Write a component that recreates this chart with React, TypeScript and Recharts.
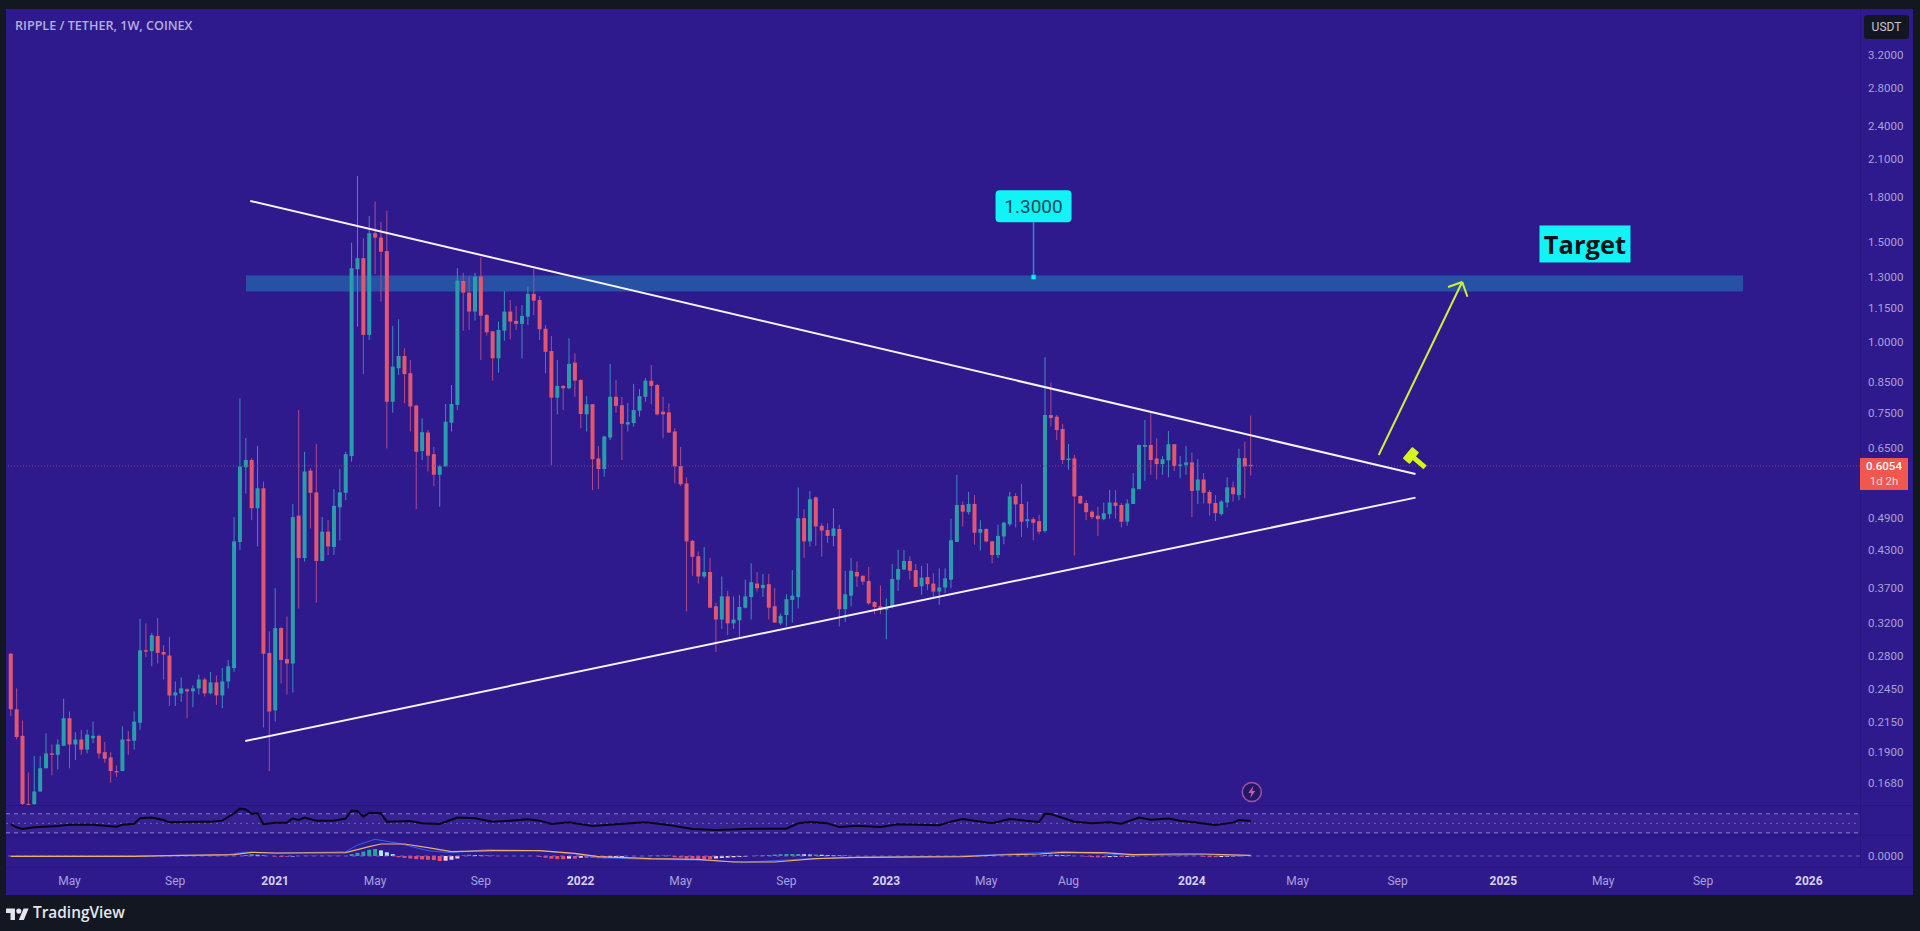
import React from 'react';
import { Bar, Cell, ComposedChart, Line, ReferenceArea, ReferenceDot, ReferenceLine, XAxis, YAxis } from 'recharts';

// open, high, low, close per week, split by stretch of the chart
const candlesA: number[][] = [
[.283,.284,.220,.226],[.226,.246,.200,.202],[.203,.216,.153,.154],[.154,.175,.153,.153],[.154,.187,.153,.162],[.162,.187,.162,.178],[.178,.205,.178,.189],[.189,.196,.173,.188],[.188,.200,.177,.196],[.195,.236,.195,.218],
[.218,.224,.178,.196],[.196,.206,.184,.200],[.200,.208,.188,.192],[.192,.208,.189,.204],[.201,.215,.197,.203],[.203,.204,.185,.189],[.190,.198,.182,.185],[.186,.190,.168,.176],[.176,.180,.172,.175],[.176,.211,.176,.200],
[.200,.207,.188,.199],[.199,.224,.192,.215],[.214,.326,.208,.287],[.287,.320,.279,.286],[.286,.308,.269,.305],[.304,.327,.272,.284],[.285,.293,.255,.282],[.281,.303,.229,.239],[.239,.253,.229,.242],[.241,.257,.233,.246],
[.245,.246,.218,.243],[.243,.249,.228,.246],[.246,.260,.240,.255],[.255,.257,.238,.241],[.241,.263,.240,.252],[.252,.259,.230,.239],[.239,.267,.227,.253],[.253,.276,.246,.269],[.267,.492,.263,.446],[.445,.796,.431,.604],
[.602,.678,.541,.620],[.620,.625,.486,.510],[.510,.656,.437,.553],[.553,.568,.210,.283],[.284,.310,.176,.224],[.225,.369,.215,.314],[.314,.315,.251,.276],[.277,.329,.240,.272],[.272,.519,.242,.492],[.495,.759,.340,.417],
[.417,.641,.411,.592],[.594,.600,.470,.543],[.544,.662,.348,.412],[.412,.492,.412,.464],[.464,.486,.422,.437],[.436,.551,.422,.515],[.512,.598,.448,.544],[.543,.641,.527,.635],
];
const candlesB: number[][] = [
[.630,1.495,.616,1.348],[1.342,1.958,1.064,1.404],[1.404,1.522,.878,1.029],[1.029,1.665,1.008,1.553],[1.553,1.765,1.317,1.526],[1.526,1.627,1.177,1.441],[1.445,1.702,.650,.785],[.785,1.067,.751,.905],[.899,1.096,.875,.945],[.945,.975,.780,.878],
[.881,.930,.696,.770],[.773,.775,.508,.641],[.643,.734,.620,.694],[.693,.700,.592,.631],[.635,.654,.558,.584],[.584,.608,.513,.604],[.604,.778,.604,.724],[.721,.840,.696,.778],[.775,1.348,.759,1.282],[1.280,1.323,1.047,1.221],
[1.221,1.303,1.050,1.131],[1.131,1.323,1.090,1.303],[1.303,1.409,.930,1.112],[1.115,1.120,1.026,1.040],[1.044,1.045,.855,.936],[.936,1.086,.883,1.050],[1.047,1.229,1.005,1.131],[1.131,1.185,1.011,1.086],[1.089,1.157,1.050,1.076],[1.076,1.161,.936,1.111],
[1.108,1.251,1.071,1.215],[1.215,1.342,1.115,1.182],[1.185,1.205,1.008,1.053],[1.055,1.071,.881,.961],[.964,1.024,.608,.798],[.798,.930,.746,.837],[.837,.840,.759,.829],[.829,1.015,.826,.915],[.920,.955,.801,.855],[.857,.860,.705,.747],
[.746,.803,.696,.777],[.777,.778,.549,.622],[.624,.656,.551,.598],[.598,.684,.580,.682],[.679,.915,.672,.801],[.801,.857,.751,.772],[.774,.800,.620,.718],[.716,.781,.696,.723],[.720,.844,.710,.759],[.757,.826,.739,.803],
];
const candlesC: number[][] = [
[.801,.864,.785,.855],[.855,.911,.777,.837],[.840,.844,.743,.746],[.754,.801,.677,.746],[.752,.780,.692,.693],[.696,.705,.564,.604],[.605,.654,.558,.562],[.564,.578,.336,.446],[.447,.449,.388,.419],[.420,.428,.376,.387],
[.387,.436,.384,.394],[.394,.417,.341,.341],[.343,.348,.285,.325],[.325,.387,.313,.357],[.357,.365,.305,.320],[.320,.357,.313,.325],[.324,.359,.303,.342],[.341,.382,.340,.357],[.356,.408,.325,.378],[.376,.394,.364,.369],
[.369,.391,.356,.374],[.375,.391,.325,.341],[.343,.369,.321,.321],[.320,.333,.318,.330],[.331,.360,.316,.353],[.352,.397,.321,.358],[.356,.555,.340,.490],[.490,.508,.417,.446],[.446,.547,.437,.529],[.533,.535,.438,.474],
[.475,.480,.419,.466],[.467,.480,.443,.456],[.456,.510,.437,.470],[.469,.477,.316,.339],[.339,.396,.322,.360],[.358,.417,.343,.396],[.394,.411,.371,.387],[.388,.389,.374,.379],[.380,.402,.345,.347],[.349,.350,.332,.342],
[.343,.373,.332,.338],[.338,.354,.300,.342],[.342,.407,.340,.383],[.382,.431,.365,.399],[.398,.431,.397,.412],[.412,.420,.382,.396],[.397,.407,.371,.371],[.372,.404,.359,.385],[.386,.408,.366,.375],[.376,.392,.355,.364],
[.364,.400,.345,.370],[.370,.400,.362,.384],
];
const candlesD: number[][] = [
[.382,.489,.369,.448],[.445,.584,.445,.517],[.517,.524,.474,.503],[.502,.545,.497,.519],[.519,.538,.440,.462],[.462,.486,.430,.469],[.469,.470,.444,.446],[.446,.447,.408,.422],[.422,.477,.417,.456],[.455,.483,.441,.481],
[.478,.545,.474,.535],[.536,.542,.472,.518],[.519,.563,.454,.483],[.484,.524,.471,.488],[.488,.492,.448,.481],[.484,.497,.459,.464],[.465,.940,.462,.744],[.744,.848,.710,.735],[.739,.744,.672,.700],[.703,.718,.610,.620],
[.620,.662,.596,.624],[.624,.633,.421,.535],[.536,.537,.519,.520],[.521,.527,.486,.502],[.503,.506,.488,.492],[.495,.513,.456,.488],[.488,.522,.486,.500],[.498,.549,.489,.522],[.522,.549,.489,.515],[.517,.521,.472,.483],
[.483,.529,.475,.520],[.519,.588,.519,.553],[.551,.660,.551,.659],[.654,.729,.570,.659],[.659,.751,.584,.620],[.624,.677,.573,.610],[.610,.630,.584,.622],[.619,.697,.578,.661],[.661,.662,.593,.605],[.605,.630,.576,.609],
[.608,.656,.584,.614],[.614,.639,.492,.547],[.548,.622,.519,.573],[.573,.588,.520,.543],[.545,.549,.495,.520],[.521,.538,.484,.500],[.498,.527,.495,.524],[.522,.578,.512,.555],[.555,.568,.524,.540],[.538,.649,.527,.625],
[.625,.668,.531,.604],[.608,.742,.582,.6054],
];

const priceTicks = [3.2, 2.8, 2.4, 2.1, 1.8, 1.5, 1.3, 1.15, 1.0, 0.85, 0.75, 0.65, 0.49, 0.43, 0.37, 0.32, 0.28, 0.245, 0.215, 0.19, 0.168];
const timeTickWeeks = [10, 28, 45, 62, 80, 97, 114, 132, 149, 166, 180, 201, 219, 236, 254, 271, 288, 306];
const timeTickLabels = ['May', 'Sep', '2021', 'May', 'Sep', '2022', 'May', 'Sep', '2023', 'May', 'Aug', '2024', 'May', 'Sep', '2025', 'May', 'Sep', '2026'];

const rsiWeeks = [0,1,2,4,8,10,14,18,19,21,22,24,26,27,31,34,36,38,39,40,41,42,43,45,47,48,49,50,52,55,57,58,59,60,61,63,64,68,70,73,76,79,82,85,88,90,92,95,99,103,108,112,116,120,125,132,134,136,139,141,144,148,151,158,160,162,164,167,170,175,176,177,181,184,187,189,192,194,197,199,201,205,208,209,211];
const rsiValues = [48,41.6,38,41.6,44.4,47,47,43,47,49,60.5,62,57,52,53.5,53.5,55.6,71,81,79,70,71,48,51.4,51.4,60,57,62,55.6,55.6,60,76.6,76,64,72,71,53.5,55,50,48.6,62,60.5,53.5,55.6,58.4,55.6,48.6,52,44.4,48,52,46.5,38,36,38,38.8,50,52.8,50,42,45,42,48,46,53.5,59,55.6,50,59,52.8,70,69.6,53.5,50,52,49.3,62,57.7,60,55.6,52.8,46.5,51.4,57,55];

const signalWeeks = [0,21,29,38,41,45,57,61,63,67,71,75,82,90,96,100,109,117,123,130,137,144,162,168,175,179,186,191,198,203,211];
const signalValues = [-.005,-.005,.011,.021,.059,.048,.053,.149,.192,.192,.133,.069,.085,.085,.043,-.011,-.043,-.053,-.096,-.096,-.043,-.021,-.011,.016,.032,.059,.053,.021,.032,.032,.011];
const macdWeeks = [0,30,36,40,45,57,59,62,66,71,75,81,90,96,100,109,117,125,134,144,162,175,179,191,203,211];
const macdValues = [0,.005,.011,.064,.043,.069,.176,.267,.203,.085,.053,.101,.085,.032,-.027,-.053,-.064,-.101,-.053,-.021,0,.053,.069,.011,.021,.005];

const histWeeks = [40,41,42,43,45,46,47,48,50,51,52,53,54,55,56,58,59,60,61,62,63,64,65,66,67,68,69,70,71,72,73,74,75,76,77,78,79,80,81,82,90,91,92,93,94,95,96,97,98,99,100,101,102,103,104,109,110,111,112,113,114,115,116,117,118,119,120,121,122,123,124,125,127,128,129,130,131,132,133,134,135,136,137,138,139,140,141,142,176,177,178,179,180,183,184,185,186,187,188,189,190,191,195,196,197,198,199,200,203,204,205,206,207,208,209];
const histValues = [.016,.03,.02,.008,-.008,-.012,-.012,-.008,.004,.004,.004,.004,.004,.004,.004,.03,.05,.07,.10,.112,.09,.06,.03,-.02,-.03,-.04,-.05,-.055,-.06,-.065,-.08,-.075,-.06,-.04,.01,.02,.015,.01,.006,.004,-.014,-.028,-.042,-.05,-.05,-.042,-.042,-.028,-.028,-.028,-.035,-.035,-.028,-.02,-.014,.008,.008,.008,.008,-.02,-.026,-.04,-.04,-.046,-.052,-.052,-.04,-.032,-.026,-.02,-.016,-.01,.008,.012,.016,.024,.028,.032,.032,.032,.028,.024,.024,.02,.016,.012,.008,.006,.018,.022,.018,.012,.008,-.01,-.018,-.022,-.022,-.018,-.016,-.016,-.012,-.008,.005,.006,.006,.005,.004,.004,-.012,-.018,-.018,-.016,-.012,-.008,-.004];

const upperTrendWeeks = [40.77, 239.06];
const upperTrendPrices = [1.77, 0.586];
const lowerTrendWeeks = [39.92, 239.06];
const lowerTrendPrices = [0.1988, 0.5325];
const arrowWeeks = [232.8, 247.0, 244.6, 247.9];
const arrowPrices = [0.6328, 1.275, 1.249, 1.201];
const zoneWeeks = [40.04, 294.8];
const zonePrices = [1.227, 1.309];
const lastPrice = 0.6054;

const allCandles = [...candlesA, ...candlesB, ...candlesC, ...candlesD];
const candleRows = allCandles.map((c, week) => ({ week, open: c[0], high: c[1], low: c[2], close: c[3], range: [c[2], c[1]] }));

const indicatorRows = allCandles.map((_, week) => {
  const h = histWeeks.indexOf(week);
  const s = signalWeeks.indexOf(week);
  const m = macdWeeks.indexOf(week);
  return { week, hist: h >= 0 ? histValues[h] : null, signal: s >= 0 ? signalValues[s] : null, macd: m >= 0 ? macdValues[m] : null };
});
const rsiRows = rsiWeeks.map((week, i) => ({ week, rsi: rsiValues[i] }));

const histColor = (w: number) => {
  const i = histWeeks.indexOf(w);
  if (i < 0) return 'transparent';
  const v = histValues[i];
  const prev = i > 0 && histWeeks[i - 1] === w - 1 ? histValues[i - 1] : 0;
  if (v >= 0) return v >= prev ? '#2AA39C' : '#B9E6E4';
  return v <= prev ? '#F2496A' : '#F6D3E6';
};

const PANE = '#2E1A8D';
const PAGE = '#131722';
const AXIS_TEXT = '#A8A2D6';
const FONT = 'Roboto, sans-serif';
const X_DOMAIN: [number, number] = [-0.8, 314.7];
const MARGIN = { top: 0, bottom: 0, left: 6, right: 60 };

const Candle = (p: any) => {
  const { x, y, width, height, payload } = p;
  const { open, high, low, close } = payload;
  const span = Math.log(high / low) || 1;
  const at = (v: number) => y + (height * Math.log(high / v)) / span;
  const up = close >= open;
  const top = at(Math.max(open, close));
  const bot = at(Math.min(open, close));
  const cx = x + width / 2;
  return (
    <g>
      <line x1={cx} x2={cx} y1={y} y2={y + height} stroke={up ? '#3F8BBE' : '#B04A8C'} strokeWidth={1} />
      <rect x={x} y={top} width={width} height={Math.max(bot - top, 1.4)} fill={up ? '#2A9DAB' : '#E2566E'} />
    </g>
  );
};

const Callout = (p: any) => {
  const { cx, cy } = p;
  return (
    <g>
      <line x1={cx} x2={cx} y1={cy - 55} y2={cy} stroke="#2A8FD6" strokeWidth={1.5} />
      <rect x={cx - 38} y={cy - 87} width={76} height={32} rx={4} fill="#12F3F6" />
      <text x={cx} y={cy - 71} textAnchor="middle" dominantBaseline="central" fontFamily={FONT} fontSize={19} fill="#0C4C5C">1.3000</text>
      <rect x={cx - 2.5} y={cy - 2.5} width={5} height={5} rx={1} fill="#12F3F6" stroke="#1E6FB0" />
    </g>
  );
};

const TargetTag = (p: any) => {
  const { cx, cy } = p;
  return (
    <g>
      <rect x={cx - 45.5} y={cy - 18.5} width={91} height={37} fill="#12F3F6" />
      <text x={cx} y={cy} textAnchor="middle" dominantBaseline="central" fontFamily="'Open Sans', sans-serif" fontWeight={700} fontSize={25.5} fill="#08141A">Target</text>
    </g>
  );
};

const Hammer = (p: any) => {
  const { cx, cy } = p;
  return (
    <g transform={`translate(${cx},${cy}) rotate(40)`} fill="#D6F51E">
      <rect x={-10} y={-7.5} width={9} height={15} rx={1} />
      <rect x={-2} y={-2.5} width={15} height={5} />
    </g>
  );
};

const Flash = (p: any) => {
  const { cx, cy } = p;
  return (
    <g>
      <circle cx={cx} cy={cy} r={9.5} fill="#241866" stroke="#A3529F" strokeWidth={1.5} />
      <path d={`M${cx + 1.5} ${cy - 6} L${cx - 3.5} ${cy + 1} L${cx - 0.5} ${cy + 1} L${cx - 1.5} ${cy + 6} L${cx + 3.5} ${cy - 1} L${cx + 0.5} ${cy - 1} Z`} fill="#C35CB0" />
    </g>
  );
};

const TimeTick = (p: any) => {
  const { x, y, payload } = p;
  const label = timeTickLabels[timeTickWeeks.indexOf(payload.value)];
  const year = /^\d{4}$/.test(label);
  return (
    <text x={x} y={y} textAnchor="middle" dominantBaseline="central" fontFamily={FONT} fontSize={12} fontWeight={year ? 700 : 400} fill={year ? '#D6D2EE' : AXIS_TEXT}>
      {label}
    </text>
  );
};

const seg = (xs: number[], ys: number[], a: number, b: number) => [
  { x: xs[a], y: ys[a] },
  { x: xs[b], y: ys[b] },
] as any;

const abs = (left: number, top: number, width: number, height: number, extra: React.CSSProperties = {}): React.CSSProperties => ({ position: 'absolute', left, top, width, height, ...extra });

export default function App() {
  return (
    <div style={abs(0, 0, 1920, 931, { background: PAGE, overflow: 'hidden' })}>
      <div style={abs(6, 9, 1907, 886, { background: PANE })} />
      <div style={abs(6, 805, 1907, 1, { background: '#27177C' })} />
      <div style={abs(6, 835, 1907, 1, { background: '#27177C' })} />
      <div style={abs(6, 867, 1907, 1, { background: '#27177C' })} />
      <div style={abs(1860, 9, 1, 858, { background: '#27177C' })} />

      <div style={abs(0, 9, 1920, 796)}>
        <ComposedChart width={1920} height={796} data={candleRows} margin={{ top: 0, bottom: 0, left: 6, right: 7 }}>
          <XAxis dataKey="week" type="number" domain={X_DOMAIN} hide allowDataOverflow />
          <YAxis
            type="number"
            scale="log"
            orientation="right"
            domain={[0.1534, 3.85]}
            allowDataOverflow
            ticks={priceTicks}
            interval={0}
            width={53}
            axisLine={false}
            tickLine={false}
            tickSize={0}
            tickMargin={8}
            tickFormatter={(v: number) => v.toFixed(4)}
            tick={{ fill: AXIS_TEXT, fontSize: 11.5, fontFamily: FONT }}
          />
          <ReferenceLine y={lastPrice} stroke="#8A3A84" strokeDasharray="1 2" />
          <Bar dataKey="range" barSize={4} shape={<Candle />} isAnimationActive={false} />
          <ReferenceArea x1={zoneWeeks[0]} x2={zoneWeeks[1]} y1={zonePrices[0]} y2={zonePrices[1]} fill="#2280BA" fillOpacity={0.55} stroke="none" />
          <ReferenceLine segment={seg(upperTrendWeeks, upperTrendPrices, 0, 1)} stroke="#F4F2FA" strokeWidth={2} />
          <ReferenceLine segment={seg(lowerTrendWeeks, lowerTrendPrices, 0, 1)} stroke="#F4F2FA" strokeWidth={2} />
          <ReferenceLine segment={seg(arrowWeeks, arrowPrices, 0, 1)} stroke="#D2EE3C" strokeWidth={2} />
          <ReferenceLine segment={seg(arrowWeeks, arrowPrices, 1, 2)} stroke="#D2EE3C" strokeWidth={2} />
          <ReferenceLine segment={seg(arrowWeeks, arrowPrices, 1, 3)} stroke="#D2EE3C" strokeWidth={2} />
          <ReferenceDot x={174.06} y={1.3} shape={<Callout />} />
          <ReferenceDot x={267.9} y={1.487} shape={<TargetTag />} />
          <ReferenceDot x={239} y={0.6227} shape={<Hammer />} />
          <ReferenceDot x={211.2} y={0.1617} shape={<Flash />} />
        </ComposedChart>
      </div>

      <div style={abs(0, 805, 1920, 30)}>
        <ComposedChart width={1920} height={30} data={rsiRows} margin={MARGIN}>
          <XAxis dataKey="week" type="number" domain={X_DOMAIN} hide allowDataOverflow />
          <YAxis type="number" domain={[25.4, 88.5]} hide allowDataOverflow />
          <ReferenceArea y1={30} y2={70} fill="#7E57C2" fillOpacity={0.12} stroke="none" />
          <ReferenceLine y={70} stroke="#8A80CC" strokeDasharray="4 4" />
          <ReferenceLine y={50} stroke="#8A80CC" strokeDasharray="2 4" strokeOpacity={0.7} />
          <ReferenceLine y={30} stroke="#8A80CC" strokeDasharray="4 4" />
          <Line dataKey="rsi" stroke="#07071A" strokeWidth={2} dot={false} isAnimationActive={false} />
        </ComposedChart>
      </div>

      <div style={abs(0, 835, 1920, 60)}>
        <ComposedChart width={1920} height={60} data={indicatorRows} margin={{ top: 0, bottom: 0, left: 6, right: 7 }}>
          <XAxis
            dataKey="week"
            type="number"
            domain={X_DOMAIN}
            allowDataOverflow
            ticks={timeTickWeeks}
            interval={0}
            height={28}
            axisLine={false}
            tickLine={false}
            tickSize={0}
            tickMargin={14}
            tick={<TimeTick />}
          />
          <YAxis
            type="number"
            orientation="right"
            domain={[-0.176, 0.336]}
            allowDataOverflow
            ticks={[0]}
            width={53}
            axisLine={false}
            tickLine={false}
            tickSize={0}
            tickMargin={8}
            tickFormatter={(v: number) => v.toFixed(4)}
            tick={{ fill: AXIS_TEXT, fontSize: 11.5, fontFamily: FONT }}
          />
          <ReferenceLine y={0} stroke="#6F65B8" strokeDasharray="4 4" />
          <Bar dataKey="hist" barSize={4} isAnimationActive={false}>
            {indicatorRows.map((r) => <Cell key={r.week} fill={histColor(r.week)} />)}
          </Bar>
          <Line dataKey="macd" stroke="#2F62F0" strokeWidth={1} dot={false} connectNulls isAnimationActive={false} />
          <Line dataKey="signal" stroke="#EBAF6E" strokeWidth={1.2} dot={false} connectNulls isAnimationActive={false} />
        </ComposedChart>
      </div>

      <div style={abs(15, 18, 300, 16, { fontFamily: "'Open Sans', sans-serif", fontSize: 12.6, fontWeight: 600, color: '#B5AFDC', lineHeight: '16px', whiteSpace: 'nowrap' })}>RIPPLE / TETHER, 1W, COINEX</div>
      <div style={abs(1864, 15, 45, 24, { background: PAGE, borderRadius: 3, color: '#C9C9D2', fontFamily: FONT, fontSize: 12, lineHeight: '24px', textAlign: 'center' })}>USDT</div>
      <div style={abs(1860, 458, 48, 32, { background: '#F0574F', fontFamily: FONT, fontSize: 11.5, lineHeight: '15px', textAlign: 'center', paddingTop: 1, boxSizing: 'border-box' })}>
        <div style={{ color: '#FFFFFF', fontWeight: 500 }}>0.6054</div>
        <div style={{ color: '#FFD9D6' }}>1d 2h</div>
      </div>

      <svg style={abs(6, 906, 23, 14)} viewBox="0 0 36 22">
        <path d="M14 22H7V11H0V4h14v18zM28 22h-8l7.5-18h8L28 22z" fill="#E6E6EA" />
        <circle cx="20" cy="8" r="4" fill="#E6E6EA" />
      </svg>
      <div style={abs(33, 902, 120, 22, { fontFamily: "'Open Sans', sans-serif", fontSize: 15.4, fontWeight: 600, color: '#E6E6EA', lineHeight: '22px', whiteSpace: 'nowrap' })}>TradingView</div>
    </div>
  );
}
